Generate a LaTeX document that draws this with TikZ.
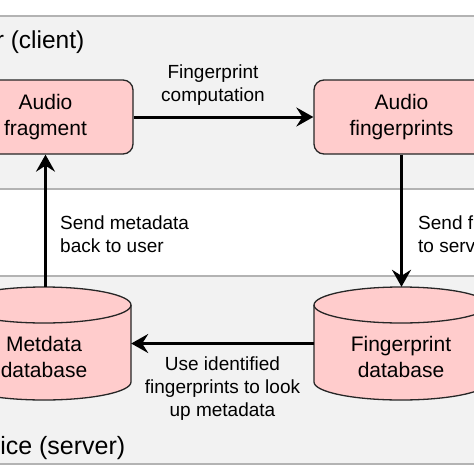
\documentclass[tikz,border=0pt]{standalone}
\usepackage{fontspec}
\setmainfont{Liberation Sans}
\usetikzlibrary{arrows.meta}
\definecolor{bandgray}{HTML}{F2F2F2}
\definecolor{bandline}{HTML}{B3B3B3}
\definecolor{boxpink}{HTML}{FFCCCC}
\definecolor{boxline}{HTML}{262626}
\begin{document}
\begin{tikzpicture}[x=1pt,y=-1pt,
  band/.style={fill=bandgray, draw=bandline, line width=1.3pt},
  boxnode/.style={draw=boxline, fill=boxpink, line width=1.3pt, rounded corners=10pt,
    minimum width=175pt, minimum height=74pt, align=center,
    font=\fontsize{21}{26}\selectfont, inner sep=0pt},
  cylfill/.style={draw=boxline, fill=boxpink, line width=1.3pt},
  cylarea/.style={minimum width=174pt, minimum height=113pt, inner sep=0pt},
  cyltext/.style={align=center, font=\fontsize{21}{26}\selectfont, inner sep=0pt},
  flow/.style={line width=3pt, -{Stealth[length=17pt,width=19pt,inset=6pt]}},
  lbl/.style={font=\fontsize{19}{23}\selectfont, inner sep=0pt},
  bandtitle/.style={font=\fontsize{24.5}{29}\selectfont, inner sep=0pt}]
\useasboundingbox (0,0) rectangle (474,474);
\clip (0,0) rectangle (474,474);
\fill[white] (0,0) rectangle (474,474);

% bands
\draw[band] (-10,16) rectangle (490,189);
\draw[band] (-10,276) rectangle (490,464);
\node[bandtitle, anchor=east] (ut) at (84.5,42) {User (client)};
\node[bandtitle, anchor=east, font=\fontsize{25}{30}\selectfont] (st) at (125.5,448) {Service (server)};

% boxes
\node[boxnode] (frag) at (45.5,117) {Audio\\fragment};
\node[boxnode] (fp) at (401.5,117) {Audio\\fingerprints};

% cylinders
\foreach \cx in {44,401}{
  \draw[cylfill] (\cx-87,305) -- (\cx-87,382)
    arc[start angle=180, end angle=360, x radius=87pt, y radius=18pt]
    -- (\cx+87,305)
    arc[start angle=0, end angle=180, x radius=87pt, y radius=18pt] -- cycle;
  \draw[cylfill, fill=none] (\cx-87,305)
    arc[start angle=180, end angle=360, x radius=87pt, y radius=18pt];
}
\node[cylarea] (mdb) at (44,343.5) {};
\node[cylarea] (fdb) at (401,343.5) {};
\node[cyltext] (mdbt) at (44,356.5) {Metdata\\database};
\node[cyltext] (fdbt) at (401,356.5) {Fingerprint\\database};

% connectors
\draw[flow] (frag.east) -- (fp.west);
\draw[flow] (fp.south) -- (fp.south |- fdb.north);
\draw[flow] (fdb.west) -- (mdb.east);
\draw[flow] (frag.south |- mdb.north) -- (frag.south);

% labels
\node[lbl, align=center] (l1) at (213,85.5) {Fingerprint\\computation};
\node[lbl, align=left, anchor=west] (l2) at (60,234.5) {Send metadata\\back to user};
\node[lbl, align=left, anchor=west] (l3) at (418,234.5) {Send fingerprints\\to server};
\node[lbl, align=center] (l4) at (222.5,388.5) {Use identified\\fingerprints to look\\up metadata};
\end{tikzpicture}
\end{document}
